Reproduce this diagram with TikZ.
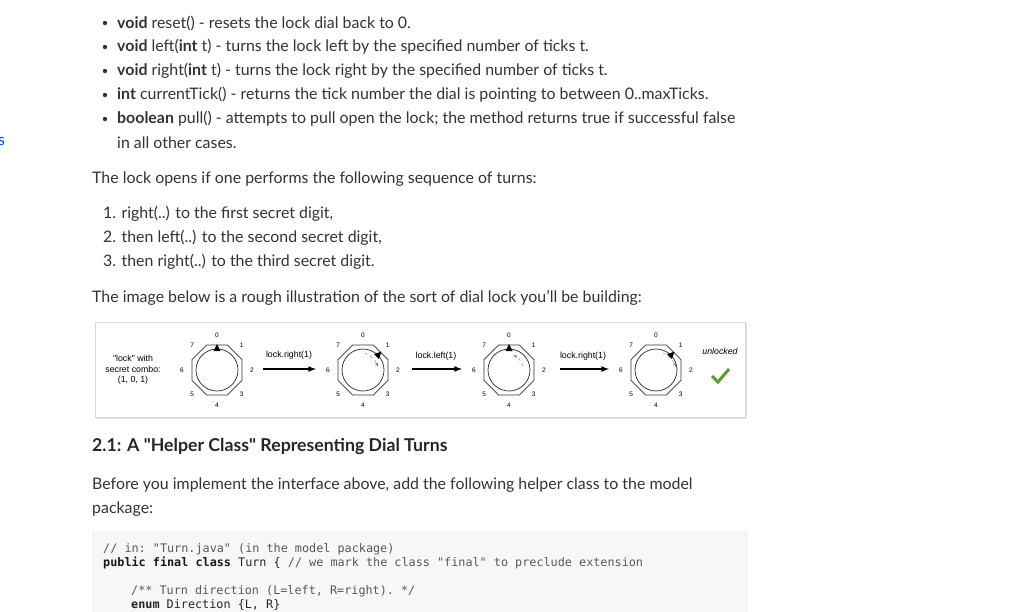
\documentclass[tikz,border=0pt]{standalone}
\usepackage{fontspec}
\setmainfont{Lato}
\setmonofont{DejaVu Sans Mono}
\newfontfamily\arial{Liberation Sans}
\definecolor{chk}{HTML}{5E9A3A}
\begin{document}
\begin{tikzpicture}[x=1pt,y=-1pt,
  txt/.style={anchor=west,inner sep=0pt,font=\fontsize{15.9}{18}\selectfont,text=black!80},
  code/.style={anchor=west,inner sep=0pt,font=\ttfamily\fontsize{11.8}{13}\selectfont,text=black!65},
  tick/.style={inner sep=0pt,font=\arial\fontsize{6.5}{7}\selectfont},
  lbl/.style={inner sep=0pt,font=\arial\fontsize{8.8}{10.5}\selectfont,align=center},
  arr/.style={-latex,line width=1.6pt}]
\useasboundingbox (0,0) rectangle (1024,611);
\fill[white] (0,0) rectangle (1024,611);
\node[txt,text=blue!70!cyan] (s) at (-2,141) {s};
% bullets
\foreach \y/\t in {23/{\textbf{void} reset() - resets the lock dial back to 0.},
  47/{\textbf{void} left(\textbf{int} t) - turns the lock left by the specified number of ticks t.},
  71/{\textbf{void} right(\textbf{int} t) - turns the lock right by the specified number of ticks t.},
  95/{\textbf{int} currentTick() - returns the tick number the dial is pointing to between 0..maxTicks.},
  119/{\textbf{boolean} pull() - attempts to pull open the lock; the method returns true if successful false}}{
  \fill[black!80] (105,\y) circle (2.2);
  \node[txt] at (117,\y) {\t};}
\node[txt] (b6) at (117,143) {in all other cases.};
\node[txt] (p1) at (92,179) {The lock opens if one performs the following sequence of turns:};
\node[txt] (l1) at (103,214) {1. right(..) to the first secret digit,};
\node[txt] (l2) at (103,238) {2. then left(..) to the second secret digit,};
\node[txt] (l3) at (103,262) {3. then right(..) to the third secret digit.};
\node[txt] (p2) at (92,298) {The image below is a rough illustration of the sort of dial lock you'll be building:};
% figure box
\fill[black!12] (96,323) rectangle (747,419);
\draw[black!15,fill=white] (95,322) rectangle (745,417);
\node[lbl] (intro) at (133,370) {\textquotedbl lock\textquotedbl{} with\\secret combo:\\(1, 0, 1)};
\foreach \cx/\n/\m in {217/a/0,363/b/1,509/c/0,656/d/1}{
  \begin{scope}[shift={(\cx,370)}]
  \draw[black!80,line width=0.7pt] (22.5:27) \foreach \k in {1,...,7}{-- (22.5+45*\k:27)} -- cycle;
  \draw[black!85,line width=0.7pt] (0,0) circle (21);
  \foreach \k in {0,...,7}{\node[tick] at ({-90+45*\k}:35) {\k};}
  \ifnum\m=0 \fill (-3.5,-19) -- (3.5,-19) -- (0,-26) -- cycle;
  \else \begin{scope}[rotate=-45]\fill (-3.5,-19) -- (3.5,-19) -- (0,-26) -- cycle;\end{scope} \fi
  \end{scope}}
\draw[blue!55,dashed,-latex,thin] (365,353) to[bend left=20] (378,367);
\draw[blue!55,dashed,-latex,thin] (523,366) to[bend right=20] (513,355);
\draw[blue!55,dashed,-latex,thin] (663,353) to[bend left=20] (676,367);
\coordinate (a1) at (263,369); \coordinate (a2) at (316,369);
\coordinate (b1) at (412,369); \coordinate (b2) at (462,369);
\coordinate (c1) at (560,369); \coordinate (c2) at (609,369);
\draw[arr] (a1) -- (a2); \draw[arr] (b1) -- (b2); \draw[arr] (c1) -- (c2);
\node[lbl] at (289,355) {lock.right(1)};
\node[lbl] at (436,356) {lock.left(1)};
\node[lbl] at (583,356) {lock.right(1)};
\node[lbl] at (720,351) {\itshape unlocked};
\draw[chk,line width=3pt] (712,376) -- (718,382) -- (729,369);
% heading
\node[anchor=west,inner sep=0pt,font=\bfseries\fontsize{17.7}{19}\selectfont,text=black!85] (h) at (92,447) {2.1: A \textquotedbl Helper Class\textquotedbl{} Representing Dial Turns};
\node[txt] (p3) at (92,485) {Before you implement the interface above, add the following helper class to the model};
\node[txt] (p4) at (92,509) {package:};
% code box
\draw[black!15,fill=black!3,rounded corners=3] (93,532) rectangle (747,640);
\node[code] at (103,549) {// in: "Turn.java" (in the model package)};
\node[code] at (103,563) {\textcolor{black!90}{\bfseries public final class} \textcolor{black!85}{Turn \{} // we mark the class "final" to preclude extension};
\node[code] at (131,591) {/** Turn direction (L=left, R=right). */};
\node[code,text=black!85] at (131,605) {\bfseries enum\mdseries{} Direction \{L, R\}};
\end{tikzpicture}
\end{document}
